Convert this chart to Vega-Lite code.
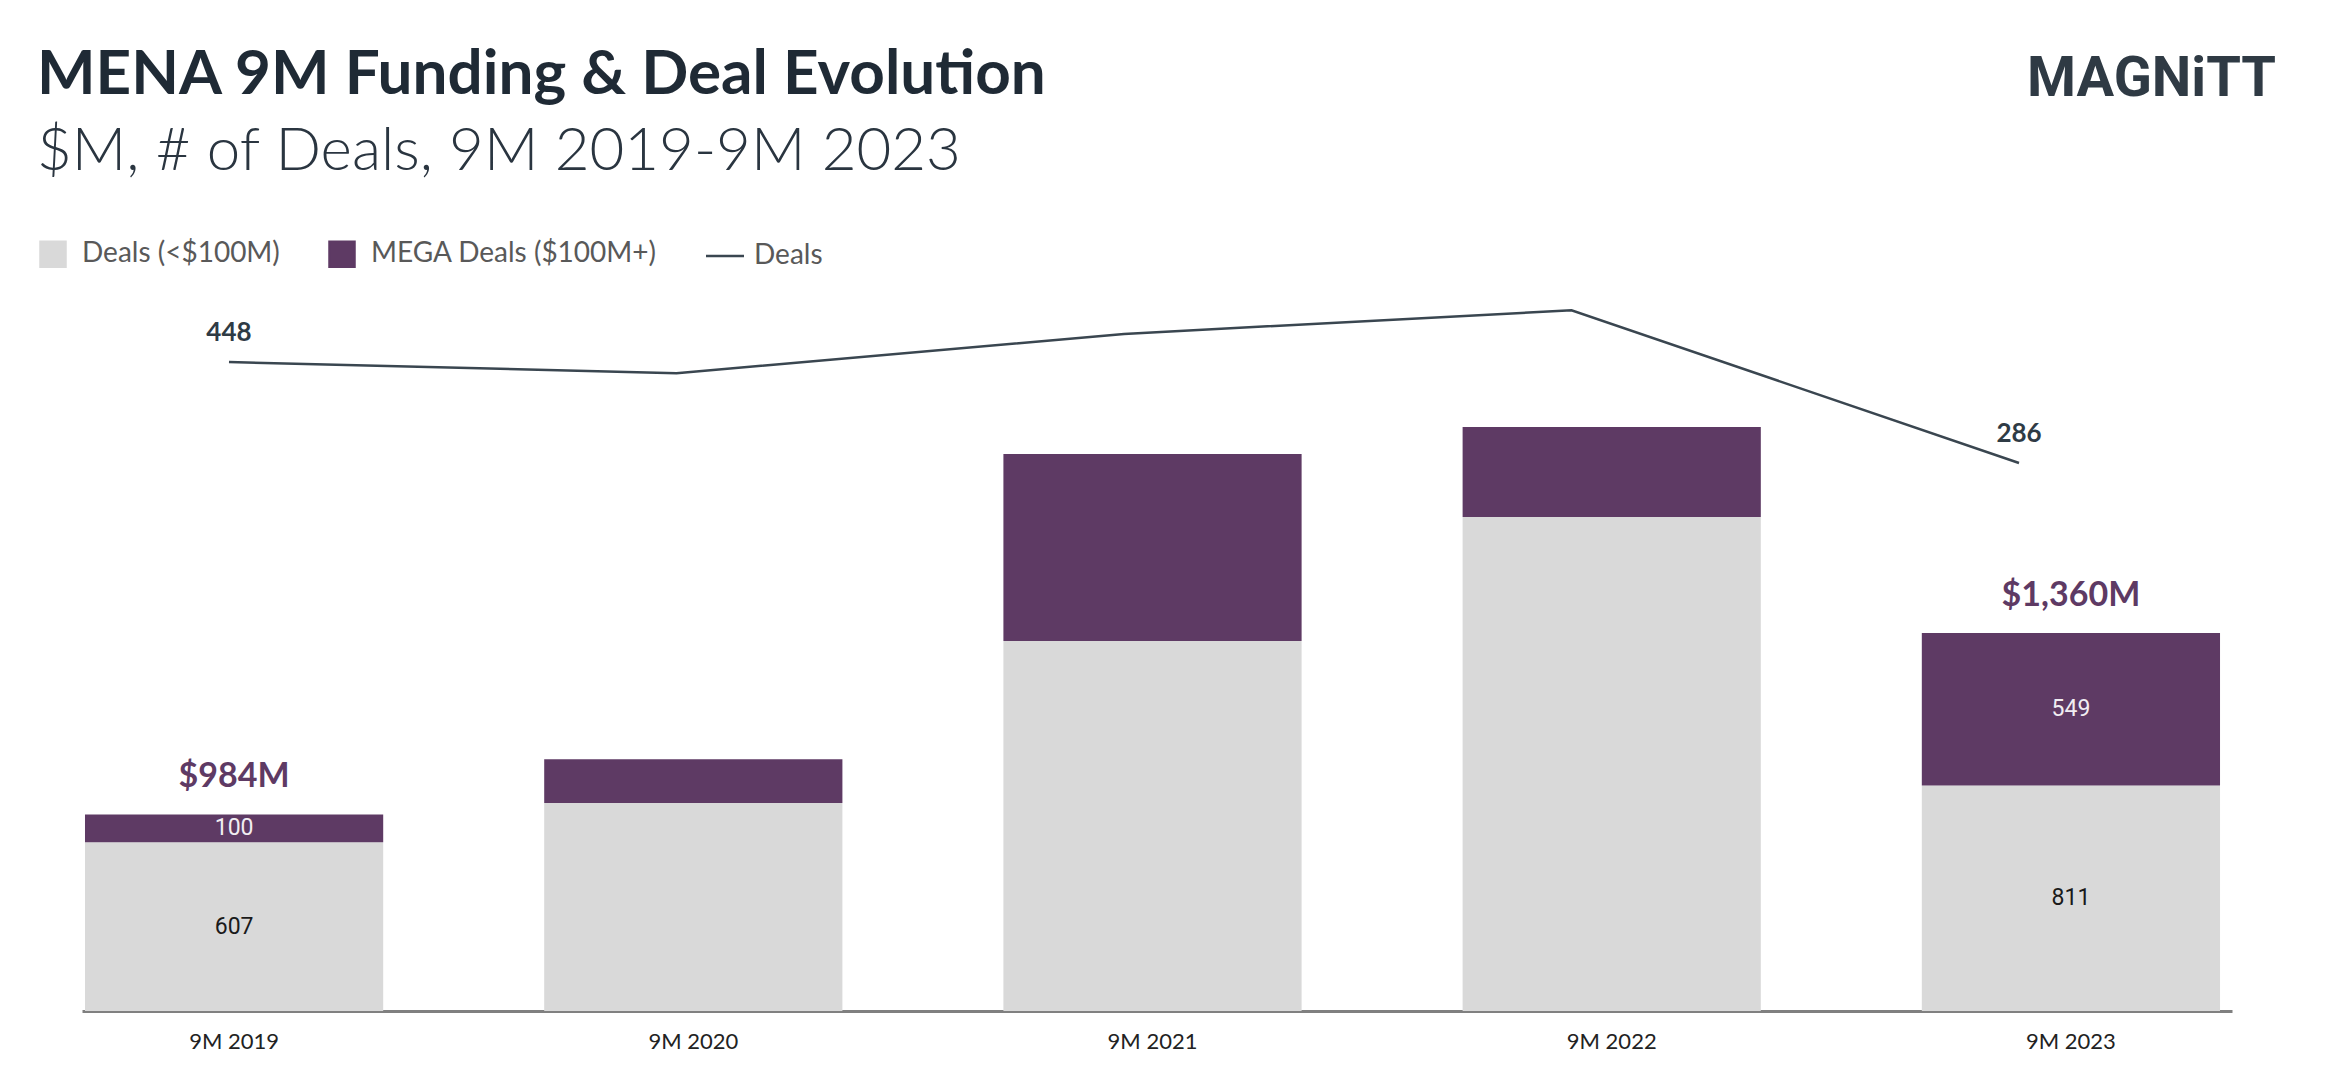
{
  "$schema": "https://vega.github.io/schema/vega-lite/v6.json",
  "width": 2150,
  "height": 721,
  "autosize": {"type": "none"},
  "padding": {"left": 82, "top": 290, "right": 117, "bottom": 62},
  "background": "white",
  "config": {"view": {"stroke": null}, "font": "Lato"},
  "title": {
    "text": "MENA 9M Funding & Deal Evolution",
    "subtitle": "$M, # of Deals, 9M 2019-9M 2023",
    "anchor": "start",
    "frame": "group",
    "dx": -45,
    "offset": -133,
    "font": "Lato",
    "fontSize": 62,
    "fontWeight": "bold",
    "color": "#1f2a35",
    "subtitleFont": "Lato",
    "subtitleFontSize": 60,
    "subtitleFontWeight": 300,
    "subtitleColor": "#2a3540",
    "subtitlePadding": 16
  },
  "datasets": {
    "funding": [
      {"period": "9M 2019", "type": "Deals (<$100M)", "order": 1, "value": 607, "label": "607"},
      {"period": "9M 2019", "type": "MEGA Deals ($100M+)", "order": 2, "value": 100, "label": "100"},
      {"period": "9M 2020", "type": "Deals (<$100M)", "order": 1, "value": 748, "label": null},
      {"period": "9M 2020", "type": "MEGA Deals ($100M+)", "order": 2, "value": 158, "label": null},
      {"period": "9M 2021", "type": "Deals (<$100M)", "order": 1, "value": 1331, "label": null},
      {"period": "9M 2021", "type": "MEGA Deals ($100M+)", "order": 2, "value": 673, "label": null},
      {"period": "9M 2022", "type": "Deals (<$100M)", "order": 1, "value": 1777, "label": null},
      {"period": "9M 2022", "type": "MEGA Deals ($100M+)", "order": 2, "value": 324, "label": null},
      {"period": "9M 2023", "type": "Deals (<$100M)", "order": 1, "value": 811, "label": "811"},
      {"period": "9M 2023", "type": "MEGA Deals ($100M+)", "order": 2, "value": 549, "label": "549"}
    ],
    "totals": [
      {"period": "9M 2019", "total": 707, "label": "$984M"},
      {"period": "9M 2023", "total": 1360, "label": "$1,360M"}
    ],
    "deals": [
      {"period": "9M 2019", "deals": 448, "label": "448"},
      {"period": "9M 2020", "deals": 430, "label": null},
      {"period": "9M 2021", "deals": 493, "label": null},
      {"period": "9M 2022", "deals": 531, "label": null},
      {"period": "9M 2023", "deals": 286, "label": "286"}
    ]
  },
  "layer": [
    {
      "layer": [
        {
          "data": {"name": "funding"},
          "mark": {"type": "bar"},
          "encoding": {
            "x": {
              "field": "period",
              "type": "nominal",
              "scale": {"paddingInner": 0.3506, "paddingOuter": 0.0163, "align": 0.2, "round": false},
              "axis": {
                "title": null,
                "labelAngle": 0,
                "ticks": false,
                "grid": false,
                "domainColor": "#808080",
                "domainWidth": 3,
                "labelPadding": 20,
                "labelFont": "Lato",
                "labelFontSize": 22,
                "labelColor": "#222222"
              }
            },
            "y": {
              "field": "value",
              "type": "quantitative",
              "stack": "zero",
              "scale": {"domain": [0, 2594], "nice": false},
              "axis": null
            },
            "color": {
              "field": "type",
              "type": "nominal",
              "scale": {
                "domain": ["Deals (<$100M)", "MEGA Deals ($100M+)", "Deals"],
                "range": ["#d9d9d9", "#5e3a64", "#3a4650"]
              },
              "legend": {
                "orient": "none",
                "legendX": -43,
                "legendY": -50,
                "direction": "horizontal",
                "title": null,
                "symbolSize": 1444,
                "symbolType": "square",
                "labelFont": "Lato",
                "labelFontSize": 28,
                "labelColor": "#595959",
                "labelOffset": 15,
                "columnPadding": 44,
                "padding": 0,
                "labelLimit": 0,
                "encode": {
                  "symbols": {
                    "update": {
                      "shape": {"signal": "datum.value === 'Deals' ? 'stroke' : 'square'"},
                      "size": {"signal": "datum.value === 'Deals' ? 1444 : 625"},
                      "fill": {"signal": "datum.value === 'Deals' ? 'transparent' : (datum.value === 'Deals (<$100M)' ? '#b8b8b8' : '#5e3a64')"},
                      "stroke": {"signal": "datum.value === 'Deals' ? '#3a4650' : 'transparent'"},
                      "strokeWidth": {"value": 2.5},
                      "opacity": {"value": 1}
                    }
                  }
                }
              }
            },
            "order": {"field": "order", "type": "quantitative"}
          }
        },
        {
          "data": {"name": "funding"},
          "transform": [
            {"stack": "value", "groupby": ["period"], "sort": [{"field": "order"}], "as": ["v0", "v1"]},
            {"calculate": "(datum.v0 + datum.v1) / 2", "as": "mid"},
            {"filter": "datum.label != null"}
          ],
          "mark": {"type": "text", "font": "Roboto", "fontSize": 23, "baseline": "middle", "align": "center"},
          "encoding": {
            "x": {"field": "period", "type": "nominal"},
            "y": {"field": "mid", "type": "quantitative"},
            "text": {"field": "label"},
            "color": {
              "condition": {"test": "datum.type === 'MEGA Deals ($100M+)'", "value": "#f1edf2"},
              "value": "#1a1a1a"
            }
          }
        },
        {
          "data": {"name": "totals"},
          "mark": {"type": "text", "font": "Lato", "fontWeight": "bold", "fontSize": 34, "color": "#5e3a64", "baseline": "middle", "align": "center", "dy": -37},
          "encoding": {
            "x": {"field": "period", "type": "nominal"},
            "y": {"field": "total", "type": "quantitative"},
            "text": {"field": "label"}
          }
        }
      ]
    },
    {
      "data": {"name": "deals"},
      "layer": [
        {
          "mark": {"type": "line", "strokeWidth": 2.5},
          "encoding": {
            "x": {
              "field": "period",
              "type": "nominal",
              "scale": {"type": "point", "padding": 0.4022, "align": 0.4083, "round": false},
              "axis": {
                "orient": "top",
                "labels": false,
                "ticks": false,
                "domain": false,
                "grid": false,
                "title": "MAGNiTT",
                "titleX": 2069,
                "titleY": -212,
                "titleAlign": "center",
                "titleBaseline": "middle",
                "titleFont": "Roboto",
                "titleFontWeight": "bold",
                "titleFontSize": 56,
                "titleColor": "#2f3a44"
              }
            },
            "y": {
              "field": "deals",
              "type": "quantitative",
              "scale": {"domain": [-593, 563.5], "zero": false, "nice": false},
              "axis": null
            },
            "color": {"datum": "Deals"}
          }
        },
        {
          "transform": [{"filter": "datum.label != null"}],
          "mark": {"type": "text", "font": "Lato", "fontWeight": "bold", "fontSize": 26, "color": "#2f3b45", "baseline": "middle", "align": "center", "dy": -29},
          "encoding": {
            "x": {"field": "period", "type": "nominal"},
            "y": {"field": "deals", "type": "quantitative"},
            "text": {"field": "label"}
          }
        }
      ]
    }
  ],
  "resolve": {"scale": {"x": "independent", "y": "independent"}}
}
